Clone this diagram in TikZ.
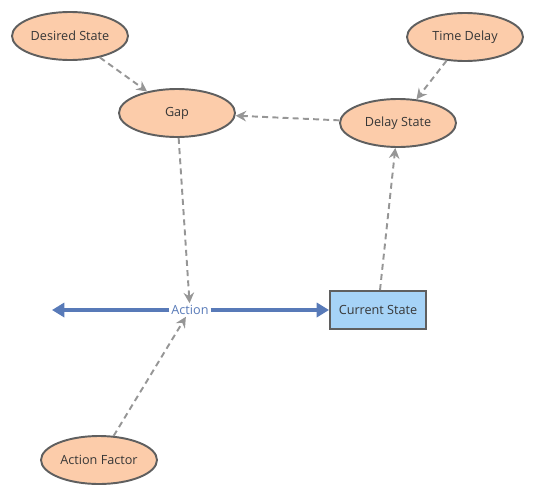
\documentclass[tikz,border=0pt]{standalone}
\usepackage{fontspec}
\setmainfont{Open Sans}
\usetikzlibrary{shapes.geometric, arrows.meta, positioning}
\definecolor{peachfill}{RGB}{252, 204, 170}
\definecolor{edgegray}{RGB}{95, 95, 95}
\definecolor{stockblue}{RGB}{166, 211, 247}
\definecolor{flowblue}{RGB}{88, 122, 184}
\definecolor{linkgray}{RGB}{150, 150, 150}
\definecolor{textdark}{RGB}{55, 55, 55}

\tikzset{
  auxnode/.style={ellipse, draw=edgegray, line width=1.1pt, fill=peachfill,
    minimum width=2.32cm, minimum height=0.96cm, inner sep=0pt,
    font=\fontsize{7.2}{8}\selectfont, text=textdark},
  stocknode/.style={rectangle, draw=edgegray, line width=1.1pt, fill=stockblue,
    minimum width=1.92cm, minimum height=0.76cm, inner sep=0pt,
    font=\fontsize{7.2}{8}\selectfont, text=textdark},
  ratenode/.style={inner sep=1pt, font=\fontsize{7.2}{8}\selectfont, text=flowblue},
  infolink/.style={linkgray, line width=1.1pt, dash pattern=on 3.4pt off 2.4pt,
    -{Stealth[length=6pt, width=6pt, inset=2pt]}},
  flowline/.style={flowblue, line width=1.8pt,
    -{Triangle[length=7pt, width=8pt]}}
}

\begin{document}
\begin{tikzpicture}[x=0.02cm, y=-0.02cm]

  \useasboundingbox (0,0) rectangle (534,494);

  % ===== 变量 =====
  \node[auxnode] (desired) at (70,36) {Desired State};
  \node[auxnode] (gap) at (177,113) {Gap};
  \node[auxnode] (timedelay) at (465,37) {Time Delay};
  \node[auxnode] (delaystate) at (398,123) {Delay State};
  \node[auxnode] (factor) at (99,460) {Action Factor};

  % ===== 存量与流量 =====
  \node[stocknode] (current) at (378,310) {Current State};
  \node[ratenode] (action) at (190,310) {Action};
  \coordinate (flowsrc) at (52,310);

  \draw[flowline] (action) -- (flowsrc);
  \draw[flowline] (action) -- (current);

  % ===== 信息链接 =====
  \draw[infolink] (desired) -- (gap);
  \draw[infolink] (timedelay) -- (delaystate);
  \draw[infolink] (delaystate) -- (gap);
  \draw[infolink] (gap) -- (action);
  \draw[infolink] (current.north) ++(2,0) -- (delaystate);
  \draw[infolink] (factor) -- (action);

\end{tikzpicture}
\end{document}
